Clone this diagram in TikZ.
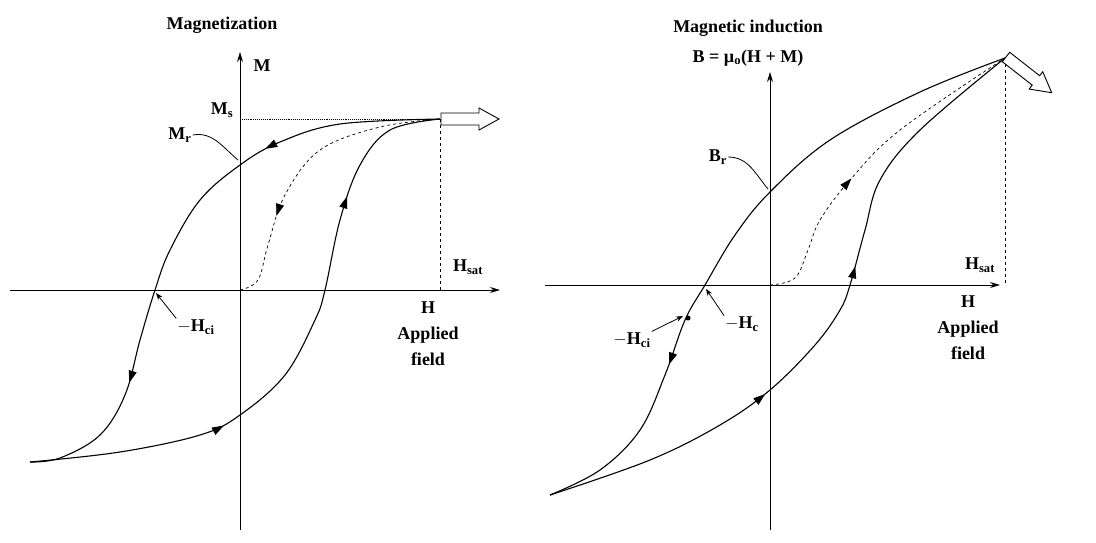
\documentclass[tikz,border=0pt]{standalone}
\usepackage{fontspec}
\setmainfont{Liberation Serif}
\usetikzlibrary{arrows.meta,decorations.markings}
\tikzset{
  curve/.style={line width=1.1pt},
  axis/.style={line width=1pt,-{Stealth[length=10pt,width=6pt]}},
  guide/.style={densely dotted,line width=0.9pt},
  dguide/.style={dashed,line width=0.7pt},
  lbl/.style={font=\bfseries\fontsize{18}{26}\selectfont,inner sep=1pt},
  marr/.style={postaction={decorate,decoration={markings,mark=at position #1 with {\arrow{Triangle[length=12pt,width=8pt]}}}}},
  hollowarr/.style={draw,line width=0.9pt,fill=white}
}
\newcommand{\hollowshape}{(0,-6) -- (38,-6) -- (38,-11) -- (58,0) -- (38,11) -- (38,6) -- (0,6) -- cycle}
\begin{document}
\begin{tikzpicture}[x=1pt,y=-1pt]
\useasboundingbox (0,0) rectangle (1096,542);
% ---------- left panel ----------
\coordinate (LO) at (240,290);
\coordinate (LS) at (440,119);
\draw[axis] (240,530) -- (240,52);
\draw[axis] (10,290) -- (500,290);
\draw[guide] (240,119) -- (LS);
\draw[dguide] (LS) -- (440,290);
\draw[curve,marr=0.3,marr=0.77] plot[smooth,tension=0.6] coordinates{(440,119)(340,124)(280,142)(240,165)(200,200)(170,250)(155,290)(140,340)(125,395)(100,435)(60,458)(30,462)};
\draw[curve,marr=0.33,marr=0.78] plot[smooth,tension=0.6] coordinates{(30,462)(120,452)(200,435)(240,415)(285,375)(315,320)(325,290)(340,220)(360,165)(390,130)(440,119)};
\draw[dguide,postaction={decorate,decoration={markings,mark=at position 0.3 with {\arrowreversed{Triangle[length=12pt,width=8pt]}}}}] plot[smooth,tension=0.6] coordinates{(240,290)(258,280)(268,245)(285,195)(320,150)(380,127)(440,119)};
\begin{scope}[shift={(441,119)}]
\draw[hollowarr] \hollowshape;
\end{scope}
\node[lbl] (lmag) at (222,25) {Magnetization};
\node[lbl] (lM) at (262,66) {M};
\node[lbl] (lMs) at (222,110) {M\textsubscript{s}};
\node[lbl] (lMr) at (180,135) {M\textsubscript{r}};
\coordinate (lMrp) at (238,160);
\draw[line width=0.8pt] (lMr.east) to[out=10,in=140] (lMrp);
\node[lbl] (lHs) at (468,267) {H\textsubscript{sat}};
\node[lbl,align=center] (lH) at (428,334) {H\\Applied\\field};
\node[lbl] (lHci) at (196,327) {$-$H\textsubscript{ci}};
\coordinate (lHcip) at (156,293);
\draw[line width=0.8pt,-{Stealth[length=7pt]}] (lHci.north west) -- (lHcip);
% ---------- right panel ----------
\coordinate (RS) at (1005,58);
\draw[axis] (770,530) -- (770,72);
\draw[axis] (545,285) -- (1000,285);
\draw[dguide] (RS) -- (1005,285);
\draw[curve,marr=0.72] plot[smooth,tension=0.6] coordinates{(1005,58)(920,92)(830,140)(770,192)(735,235)(705,285)(685,320)(665,375)(640,430)(600,470)(550,495)};
\draw[curve,marr=0.36,marr=0.6] plot[smooth,tension=0.6] coordinates{(550,495)(650,460)(720,425)(770,390)(815,345)(840,310)(850,285)(865,230)(880,180)(920,130)(1005,58)};
\draw[dguide,marr=0.42] plot[smooth,tension=0.6] coordinates{(770,285)(795,278)(808,250)(820,220)(850,180)(900,130)(1005,58)};
\begin{scope}[shift={(1006,57)},rotate=-38]
\draw[hollowarr] \hollowshape;
\end{scope}
\node[lbl] (rmag) at (748,28) {Magnetic induction};
\node[lbl] (rB) at (748,58) {B = \textmu\textsubscript{o}(H + M)};
\node[lbl] (rBr) at (718,157) {B\textsubscript{r}};
\coordinate (rBrp) at (768,189);
\draw[line width=0.8pt] (rBr.east) to[out=0,in=130] (rBrp);
\node[lbl] (rHs) at (980,265) {H\textsubscript{sat}};
\node[lbl,align=center] (rH) at (968,328) {H\\Applied\\field};
\node[lbl] (rHc) at (742,324) {$-$H\textsubscript{c}};
\coordinate (rHcp) at (706,289);
\draw[line width=0.8pt,-{Stealth[length=7pt]}] (rHc.north west) -- (rHcp);
\node[lbl] (rHci) at (632,340) {$-$H\textsubscript{ci}};
\coordinate (rHcip) at (683,316);
\fill (688,318) circle (2.5pt);
\draw[line width=0.8pt,-{Stealth[length=7pt]}] (rHci.north east) -- (rHcip);
\end{tikzpicture}
\end{document}
